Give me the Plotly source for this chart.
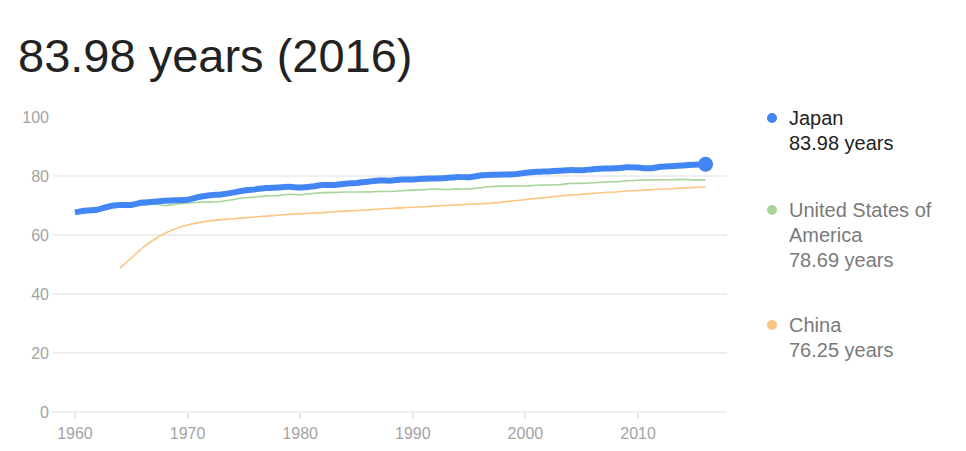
import plotly.graph_objects as go

years = list(range(1960, 2017))
japan = [67.67, 68.31, 68.58, 69.68, 70.14, 70.20, 70.99, 71.28, 71.60, 71.79,
         71.95, 72.88, 73.51, 73.76, 74.36, 75.06, 75.47, 75.97, 76.09, 76.34,
         76.09, 76.42, 76.92, 76.96, 77.37, 77.65, 78.06, 78.48, 78.41, 78.83,
         78.84, 79.10, 79.15, 79.29, 79.69, 79.54, 80.20, 80.42, 80.50, 80.57,
         81.08, 81.42, 81.56, 81.76, 82.03, 81.93, 82.32, 82.51, 82.59, 82.93,
         82.84, 82.59, 83.10, 83.33, 83.59, 83.79, 83.98]
years_usa = list(range(1964, 2017))
usa = [70.17, 70.21, 70.21, 70.56, 69.95, 70.51, 70.81, 71.11, 71.16, 71.36,
       71.96, 72.60, 72.86, 73.26, 73.36, 73.80, 73.61, 74.01, 74.36, 74.46,
       74.56, 74.56, 74.61, 74.77, 74.77, 75.02, 75.21, 75.37, 75.62, 75.42,
       75.62, 75.62, 76.03, 76.43, 76.58, 76.58, 76.64, 76.84, 76.94, 77.04,
       77.49, 77.49, 77.69, 77.99, 78.04, 78.39, 78.54, 78.64, 78.74, 78.74,
       78.84, 78.69, 78.69]
years_china = list(range(1964, 2017))
china = [48.8, 52.2, 55.6, 58.4, 60.6, 62.2, 63.4, 64.2, 64.8, 65.2,
         65.5, 65.8, 66.1, 66.4, 66.7, 67.0, 67.2, 67.4, 67.6, 67.9,
         68.1, 68.3, 68.5, 68.8, 69.0, 69.2, 69.4, 69.6, 69.8, 70.0,
         70.2, 70.4, 70.6, 70.8, 71.2, 71.6, 72.0, 72.4, 72.8, 73.2,
         73.5, 73.8, 74.1, 74.4, 74.6, 74.9, 75.1, 75.3, 75.5, 75.7,
         75.9, 76.1, 76.25]

y_ticks = [0, 20, 40, 60, 80, 100]
x_ticks = [1960, 1970, 1980, 1990, 2000, 2010]

BLUE = "#4285f4"
GREEN = "#a8d59c"
ORANGE = "#fdc582"
FONT = "Liberation Sans, Arial, sans-serif"

OFF = 8  # page body margin
W, H = 950, 438
L, R, T, B = 53 - OFF, 727 - OFF, 117 - OFF, 412 - OFF

fig = go.Figure()
fig.add_trace(go.Scatter(x=years_china, y=china, mode="lines",
                         line=dict(color=ORANGE, width=1.6, shape="spline", smoothing=0.5),
                         hoverinfo="skip"))
fig.add_trace(go.Scatter(x=years_usa, y=usa, mode="lines",
                         line=dict(color=GREEN, width=1.6, shape="spline", smoothing=0.5),
                         hoverinfo="skip"))
fig.add_trace(go.Scatter(x=years, y=japan, mode="lines",
                         line=dict(color=BLUE, width=6, shape="spline", smoothing=0.5),
                         hoverinfo="skip"))
fig.add_trace(go.Scatter(x=[years[-1]], y=[japan[-1]], mode="markers",
                         marker=dict(color=BLUE, size=15), hoverinfo="skip"))


def px_x(x):
    return (x - OFF - L) / (R - L)


def px_y(y):
    return (B - (y - OFF)) / (B - T)


annotations = [dict(text=f"{japan[-1]:.2f} years ({years[-1]})", xref="paper", yref="paper",
                    x=px_x(16), y=px_y(56), xanchor="left", yanchor="middle",
                    showarrow=False, font=dict(size=47, color="#222222", family=FONT))]

legend = [
    (["Japan", f"{japan[-1]:.2f} years"], 118, BLUE, "#222222"),
    (["United States of", "America", f"{usa[-1]:.2f} years"], 210, GREEN, "#7a7a7a"),
    (["China", f"{china[-1]:.2f} years"], 325, ORANGE, "#7a7a7a"),
]
shapes = []
for lines, y0, col, tcol in legend:
    for i, t in enumerate(lines):
        annotations.append(dict(text=t, xref="paper", yref="paper", x=px_x(787), y=px_y(y0 + 25 * i),
                                xanchor="left", yanchor="middle", showarrow=False,
                                font=dict(size=20, color=tcol, family=FONT)))
    shapes.append(dict(type="circle", xref="paper", yref="paper", xsizemode="pixel", ysizemode="pixel",
                       xanchor=px_x(772), yanchor=px_y(y0), x0=-5, x1=5, y0=-5, y1=5,
                       fillcolor=col, line=dict(width=0)))

fig.update_layout(
    width=W, height=H,
    margin=dict(l=L, r=W - R, t=T, b=H - B, pad=0, autoexpand=False),
    paper_bgcolor="white", plot_bgcolor="white",
    showlegend=False,
    font=dict(family=FONT),
    annotations=annotations,
    shapes=shapes,
    xaxis=dict(range=[1958.05, 2017.9], tickvals=x_ticks, showgrid=False, zeroline=False,
               ticks="outside", ticklen=6, tickwidth=1.5, tickcolor="#e6e6e6",
               ticklabelstandoff=1, automargin=False,
               showline=False, tickfont=dict(size=16, color="#a3a3a3", family=FONT), fixedrange=True),
    yaxis=dict(range=[0, 100], tickvals=y_ticks, showgrid=True, gridcolor="#eeeeee", gridwidth=2,
               zeroline=True, zerolinecolor="#eeeeee", zerolinewidth=2, showline=False,
               ticks="", ticklabelstandoff=3, automargin=False,
               tickfont=dict(size=16, color="#a3a3a3", family=FONT), fixedrange=True),
)

fig.write_html("out.html")
